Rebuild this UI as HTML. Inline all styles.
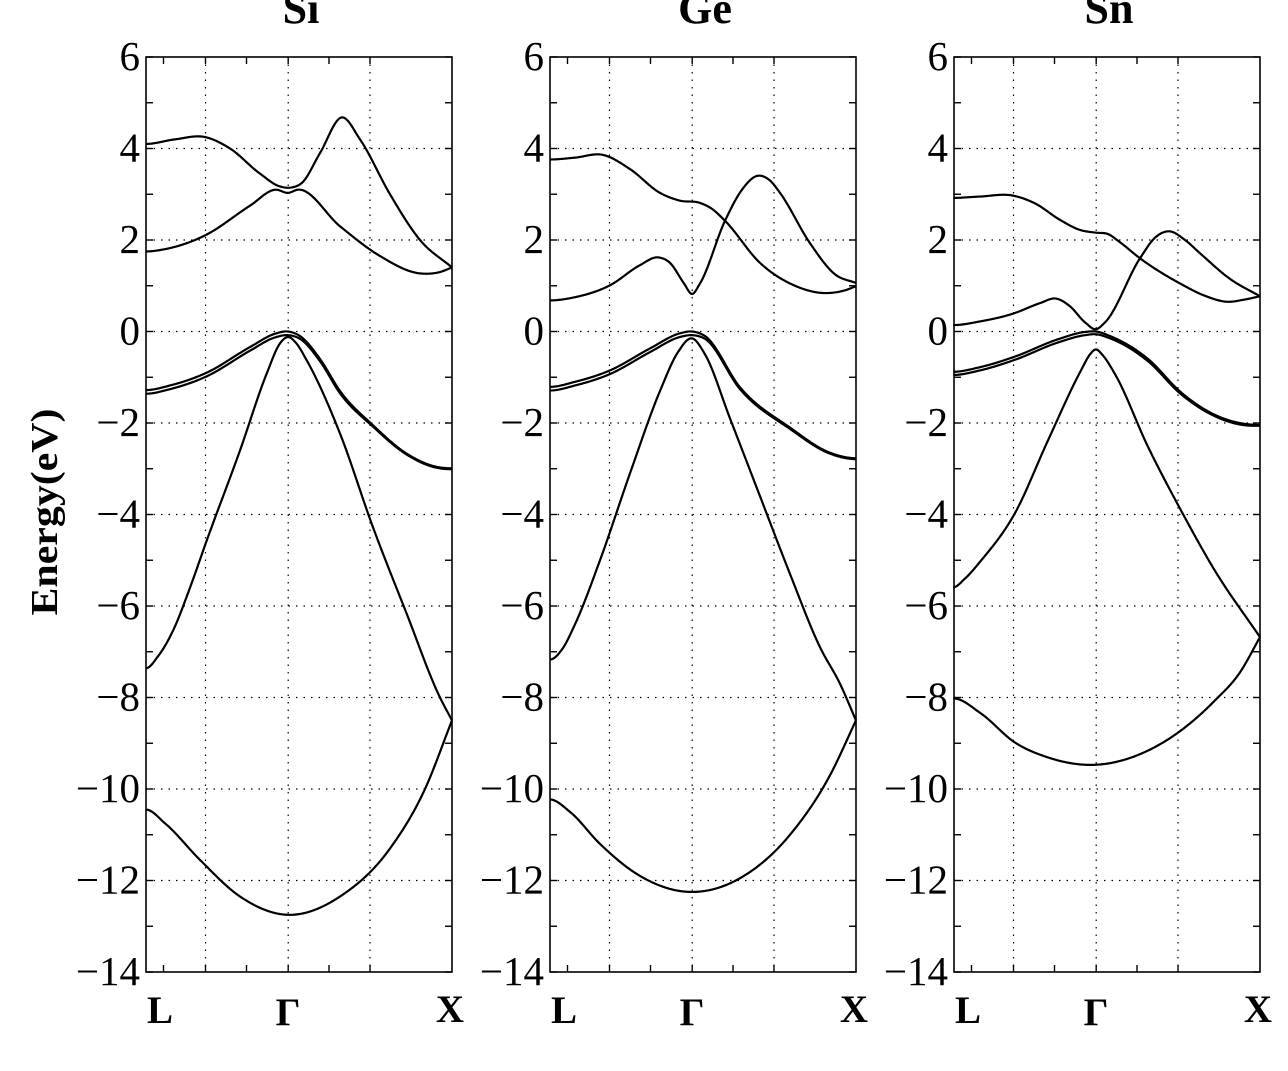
<!DOCTYPE html>
<html><head><meta charset="utf-8"><style>
html,body{margin:0;padding:0;background:#fff}
svg{display:block}
text{font-family:"Liberation Serif",serif;fill:#000}
</style></head><body>
<svg id="s" width="1288" height="1071" xmlns="http://www.w3.org/2000/svg"></svg>
<script>
const S=document.getElementById('s');
const NS='http://www.w3.org/2000/svg';
function el(t,a,txt){const e=document.createElementNS(NS,t);for(const k in a)e.setAttribute(k,a[k]);if(txt!==undefined)e.textContent=txt;S.appendChild(e);return e;}
const TOP=57,BOT=972,W=306;
const Y=e=>TOP+(6-e)*(BOT-TOP)/20;
function interp(pts,flatEnd){
 const n=pts.length,x=pts.map(p=>p[0]),y=pts.map(p=>p[1]);
 const m=[];
 for(let i=0;i<n;i++){
  if(i==0)m[i]=0;
  else if(i==n-1)m[i]=flatEnd?0:(y[n-1]-y[n-2])/(x[n-1]-x[n-2]);
  else{const h0=x[i]-x[i-1],h1=x[i+1]-x[i],d0=(y[i]-y[i-1])/h0,d1=(y[i+1]-y[i])/h1;m[i]=(d0*h1+d1*h0)/(h0+h1);}
 }
 let s='';
 for(let i=0;i<n-1;i++){
  const h=x[i+1]-x[i];const steps=Math.max(2,Math.ceil(h));
  for(let k=(i==0?0:1);k<=steps;k++){
   const t=k/steps,t2=t*t,t3=t2*t;
   const v=(2*t3-3*t2+1)*y[i]+(t3-2*t2+t)*h*m[i]+(-2*t3+3*t2)*y[i+1]+(t3-t2)*h*m[i+1];
   s+=(s?' L':'M')+(x[i]+t*h).toFixed(2)+','+Y(v).toFixed(2);
  }
 }
 return s;
}
const panels=[
{L:146,title:'Si',bands:[
[[146,-10.45],[165,-10.75],[200,-11.55],[240,-12.35],[288,-12.75],[340,-12.35],[390,-11.3],[425,-10.0],[452,-8.5]],
[[146,-7.36],[158,-7.1],[173,-6.54],[190,-5.6],[206.7,-4.57],[240,-2.6],[266.7,-0.92],[280,-0.26],[288,-0.12],[296,-0.25],[306.7,-0.63],[340,-2.23],[373,-4.28],[406.7,-6.17],[440,-8.0],[452,-8.5]],
[[146,-1.28],[170,-1.18],[206.7,-0.9],[250,-0.34],[275,-0.05],[288,0],[300,-0.1],[320,-0.6],[340,-1.3],[373,-2.05],[406.7,-2.67],[435,-2.95],[452,-2.99]],
[[146,-1.36],[170,-1.26],[206.7,-0.98],[250,-0.42],[275,-0.13],[288,-0.08],[300,-0.16],[320,-0.65],[340,-1.35],[373,-2.08],[406.7,-2.69],[435,-2.97],[452,-3.01]],
[[146,1.75],[165,1.8],[205,2.1],[250,2.75],[276,3.1],[288,3.03],[298,3.1],[340,2.3],[380,1.65],[420,1.27],[440,1.3],[452,1.4]],
[[146,4.1],[175,4.2],[205,4.25],[230,4.0],[260,3.45],[280,3.17],[292,3.15],[302,3.25],[320,3.9],[342,4.68],[360,4.2],[390,3.0],[420,2.0],[452,1.4]]]},
{L:550,title:'Ge',bands:[
[[550,-10.23],[570,-10.5],[600,-11.2],[640,-11.9],[692,-12.25],[740,-11.95],[790,-11.0],[830,-9.7],[856,-8.5]],
[[550,-7.17],[562,-6.95],[575,-6.4],[600,-5.0],[630,-3.1],[660,-1.3],[678,-0.45],[692,-0.15],[705,-0.5],[730,-1.9],[760,-3.6],[790,-5.3],[820,-6.9],[840,-7.7],[856,-8.5]],
[[550,-1.21],[575,-1.1],[610,-0.85],[650,-0.37],[680,-0.04],[692,0],[705,-0.1],[740,-1.22],[790,-2.1],[830,-2.65],[856,-2.77]],
[[550,-1.29],[575,-1.18],[610,-0.93],[650,-0.45],[680,-0.12],[692,-0.08],[705,-0.16],[740,-1.26],[790,-2.13],[830,-2.67],[856,-2.79]],
[[550,0.68],[575,0.75],[610,1.01],[640,1.45],[658,1.62],[670,1.5],[684,1.05],[692,0.82],[700,1.05],[725,2.42],[742,3.1],[757,3.4],[770,3.3],[780,3.03],[810,1.93],[835,1.25],[856,1.06]],
[[550,3.76],[575,3.8],[603,3.86],[630,3.55],[660,3.03],[680,2.86],[700,2.81],[712,2.68],[725,2.42],[760,1.5],[795,1.0],[825,0.84],[845,0.9],[856,0.99]]]},
{L:954,title:'Sn',bands:[
[[953.3,-8.02],[981,-8.35],[1014.7,-8.98],[1048,-9.31],[1096,-9.47],[1148,-9.16],[1181,-8.72],[1214.7,-8.07],[1240,-7.45],[1260,-6.68]],
[[953.3,-5.59],[965,-5.4],[981.3,-5.0],[1014.7,-3.98],[1048,-2.38],[1081,-0.85],[1090,-0.5],[1096,-0.39],[1102,-0.5],[1114.7,-0.92],[1148,-2.52],[1181,-3.91],[1214.7,-5.22],[1260,-6.68]],
[[953.3,-0.88],[980,-0.78],[1014.7,-0.55],[1058,-0.17],[1085,-0.01],[1096,0],[1110,-0.1],[1148,-0.6],[1181,-1.33],[1214.7,-1.82],[1245,-2.02],[1260,-2.04]],
[[953.3,-0.95],[980,-0.85],[1014.7,-0.62],[1058,-0.24],[1085,-0.08],[1096,-0.06],[1110,-0.15],[1148,-0.65],[1181,-1.37],[1214.7,-1.85],[1245,-2.05],[1260,-2.06]],
[[953.3,0.14],[980,0.22],[1013,0.39],[1040,0.62],[1056,0.72],[1070,0.55],[1085,0.2],[1096,0.05],[1105,0.2],[1140,1.6],[1155,2.05],[1169,2.19],[1185,2.0],[1200,1.71],[1230,1.15],[1260,0.77]],
[[953.3,2.92],[980,2.95],[1013,2.97],[1035,2.8],[1060,2.44],[1080,2.22],[1096,2.16],[1108,2.13],[1120,1.95],[1140,1.6],[1180,1.05],[1205,0.78],[1227,0.65],[1245,0.7],[1260,0.77]]]}
];
panels.forEach(P=>{
 const L=P.L,R=L+W;
 const maj=[206,288.7,370.5].map(x=>L+(x-146)-0.5), mnr=[164,247,329.5].map(x=>L+(x-146)-0.5);
 maj.forEach(x=>el('line',{x1:x,y1:TOP,x2:x,y2:BOT,stroke:'#000','stroke-width':1.2,'stroke-dasharray':'1.5,6'}));
 for(let e=-12;e<=4;e+=2){const y=Y(e);el('line',{x1:L,y1:y,x2:R,y2:y,stroke:'#000','stroke-width':1.2,'stroke-dasharray':'1.5,6'});}
 for(let e=-14;e<=6;e+=1){const y=Y(e);el('line',{x1:L,y1:y,x2:L+7,y2:y,stroke:'#000','stroke-width':1.4});el('line',{x1:R-7,y1:y,x2:R,y2:y,stroke:'#000','stroke-width':1.4});}
 maj.concat(mnr).forEach(x=>{el('line',{x1:x,y1:TOP,x2:x,y2:TOP+7,stroke:'#000','stroke-width':1.4});el('line',{x1:x,y1:BOT-7,x2:x,y2:BOT,stroke:'#000','stroke-width':1.4});});
 P.bands.forEach((b,i)=>el('path',{d:interp(b,i>=2&&i<=3),fill:'none',stroke:'#000','stroke-width':2.2,'stroke-linejoin':'round'}));
 el('rect',{x:L,y:TOP,width:W,height:BOT-TOP,fill:'none',stroke:'#000','stroke-width':1.6});
 for(let e=-14;e<=6;e+=2){el('text',{x:L-6,y:Y(e)+13,'font-size':41,'text-anchor':'end'},e<0?'\u2212'+(-e):''+e);}
 el('text',{x:L+(301-146),y:23,'font-size':44,'font-weight':'bold','text-anchor':'middle'},P.title);
 el('text',{x:L+1,y:1023,'font-size':39,'font-weight':'bold'},'L');
 el('text',{x:L+(288-146),y:1025,'font-size':39,'font-weight':'bold','text-anchor':'middle'},'Γ');
 el('text',{x:R-2,y:1022,'font-size':39,'font-weight':'bold','text-anchor':'middle'},'X');
});
el('text',{x:0,y:0,'font-size':38,'font-weight':'bold','text-anchor':'middle',transform:'translate(57,512) rotate(-90)',textLength:207,lengthAdjust:'spacingAndGlyphs'},'Energy(eV)');
</script>
</body></html>
